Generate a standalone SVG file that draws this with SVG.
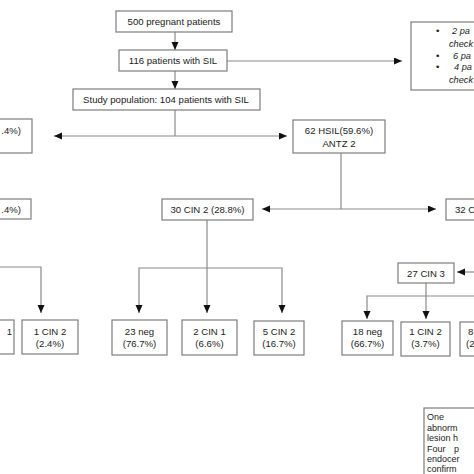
<svg xmlns="http://www.w3.org/2000/svg" width="474" height="474" viewBox="0 0 474 474">
<style>
.box{fill:#fff;stroke:#7d7d7d;stroke-width:1.2}
.t{font-family:"Liberation Sans",Arial,sans-serif;font-size:9.6px;fill:#222;text-anchor:middle}
.ts{font-family:"Liberation Sans",Arial,sans-serif;font-size:9.6px;fill:#222}
.ti{font-family:"Liberation Sans",Arial,sans-serif;font-size:9.2px;fill:#222;font-style:italic}
.tn{font-family:"Liberation Sans",Arial,sans-serif;font-size:9px;fill:#222}
.ln{fill:none;stroke:#8a8a8a;stroke-width:1.2}
.ar{marker-end:url(#ah)}
.ar2{marker-end:url(#ah);marker-start:url(#ah)}
</style>
<defs>
<marker id="ah" markerUnits="userSpaceOnUse" markerWidth="9" markerHeight="8" refX="8" refY="3.5" orient="auto-start-reverse">
<path d="M0,0 L8,3.5 L0,7 z" fill="#111"/>
</marker>
</defs>
<rect width="474" height="474" fill="#fff"/>
<g id="connectors">
<line class="ln ar" x1="175" y1="32" x2="175" y2="50"/>
<line class="ln ar" x1="175" y1="71" x2="175" y2="89"/>
<line class="ln ar" x1="227" y1="61" x2="402" y2="61"/>
<line class="ln" x1="175" y1="110" x2="175" y2="136"/>
<line class="ln ar2" x1="54" y1="136" x2="287" y2="136"/>
<line class="ln" x1="341" y1="153" x2="341" y2="209"/>
<line class="ln ar2" x1="262" y1="209" x2="436" y2="209"/>
<polyline class="ln ar" points="0,267 41,267 41,313"/>
<line class="ln ar" x1="207" y1="220" x2="207" y2="313"/>
<polyline class="ln ar" points="207,268 139,268 139,313"/>
<polyline class="ln ar" points="207,268 282,268 282,313"/>
<line class="ln ar" x1="474" y1="272" x2="457" y2="272"/>
<line class="ln ar" x1="426" y1="283" x2="426" y2="319"/>
<polyline class="ln ar" points="474,296 367,296 367,319"/>
</g>
<g id="n500"><rect class="box" x="116" y="11" width="116" height="21"/><text class="t" x="174" y="25">500 pregnant patients</text></g>
<g id="n116"><rect class="box" x="119" y="50" width="108" height="21"/><text class="t" x="173" y="64">116 patients with SIL</text></g>
<g id="nexcl"><rect class="box" x="411" y="22" width="70" height="68"/>
<text class="ts" x="436" y="34">•</text><text class="ti" x="452" y="34">2 pa</text>
<text class="ti" x="449" y="47">check</text>
<text class="ts" x="436" y="59">•</text><text class="ti" x="453" y="59">6 pa</text>
<text class="ts" x="436" y="70">•</text><text class="ti" x="454" y="70">4 pa</text>
<text class="ti" x="449" y="83">check</text></g>
<g id="nstudy"><rect class="box" x="73" y="89" width="187" height="21"/><text class="t" x="166" y="103">Study population: 104 patients with SIL</text></g>
<g id="nlsil"><rect class="box" x="-60" y="119" width="92" height="34"/><text class="ts" x="21" y="133.5" text-anchor="end">.4%)</text></g>
<g id="nhsil"><rect class="box" x="293" y="120" width="92" height="33"/><text class="t" x="339" y="133.5">62 HSIL(59.6%)</text><text class="t" x="339" y="146.5">ANTZ 2</text></g>
<g id="nleft2"><rect class="box" x="-60" y="199" width="91" height="20"/><text class="ts" x="21" y="212.5" text-anchor="end">.4%)</text></g>
<g id="ncin2"><rect class="box" x="162" y="199" width="91" height="21"/><text class="t" x="207.5" y="213">30 CIN 2 (28.8%)</text></g>
<g id="ncin3"><rect class="box" x="446" y="199" width="60" height="21"/><text class="ts" x="455" y="213">32 C</text></g>
<g id="nl1"><rect class="box" x="-42" y="320" width="56" height="34"/><text class="ts" x="12" y="334.5" text-anchor="end">1</text></g>
<g id="nl2"><rect class="box" x="22" y="320" width="56" height="34"/><text class="t" x="50" y="334.5">1 CIN 2</text><text class="t" x="50" y="346.5">(2.4%)</text></g>
<g id="n23"><rect class="box" x="112" y="320" width="55" height="35"/><text class="t" x="139.5" y="334.5">23 neg</text><text class="t" x="139.5" y="346.5">(76.7%)</text></g>
<g id="n2cin1"><rect class="box" x="182" y="320" width="55" height="35"/><text class="t" x="209.5" y="334.5">2 CIN 1</text><text class="t" x="209.5" y="346.5">(6.6%)</text></g>
<g id="n5cin2"><rect class="box" x="254" y="321" width="50" height="34"/><text class="t" x="279" y="334.5">5 CIN 2</text><text class="t" x="279" y="346.5">(16.7%)</text></g>
<g id="n27"><rect class="box" x="398" y="263" width="56" height="20"/><text class="t" x="426" y="276.5">27 CIN 3</text></g>
<g id="n18"><rect class="box" x="342" y="321" width="51" height="34"/><text class="t" x="367.5" y="334.5">18 neg</text><text class="t" x="367.5" y="346.5">(66.7%)</text></g>
<g id="n1cin2"><rect class="box" x="401" y="322" width="49" height="34"/><text class="t" x="425.5" y="335">1 CIN 2</text><text class="t" x="425.5" y="347">(3.7%)</text></g>
<g id="n8"><rect class="box" x="460" y="322" width="50" height="34"/><text class="ts" x="468" y="335">8</text><text class="ts" x="466" y="347">(2</text></g>
<g id="nnote"><rect class="box" x="424" y="408" width="60" height="70"/>
<text class="tn" x="427" y="420">One</text>
<text class="tn" x="427" y="430.5">abnorm</text>
<text class="tn" x="427" y="441">lesion h</text>
<text class="tn" x="427" y="451.5">Four</text><text class="tn" x="454" y="451.5">p</text>
<text class="tn" x="427" y="462">endocer</text>
<text class="tn" x="427" y="472">confirm</text></g>
</svg>
